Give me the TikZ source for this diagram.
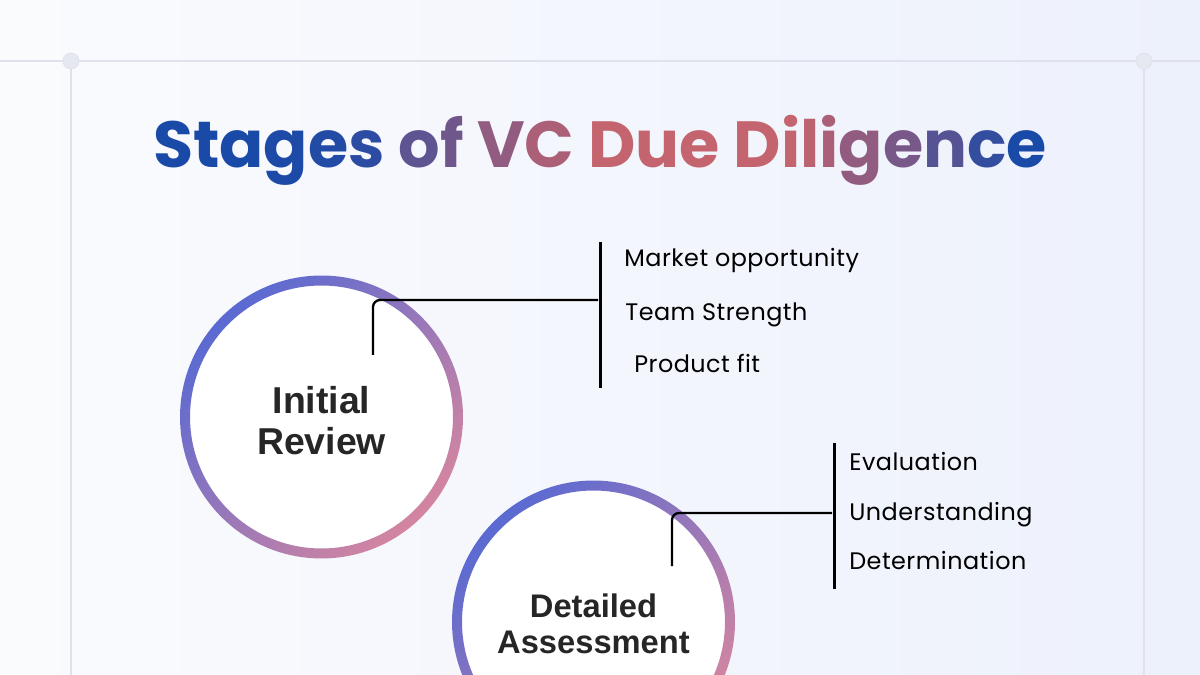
\documentclass[tikz,border=0pt]{standalone}
\usepackage{fontspec}
\setmainfont{Liberation Sans}
\newfontfamily\titlefont{Poppins}
\newfontfamily\itemfont[LetterSpace=2]{Poppins}
\newfontfamily\labfont{Liberation Sans}
\definecolor{bgl}{HTML}{FAFBFD}
\definecolor{bgr}{HTML}{EDF1FC}
\definecolor{gridc}{HTML}{DFE2EC}
\definecolor{dotc}{HTML}{E6E8F0}
\definecolor{tb}{HTML}{1A4AA8}
\definecolor{tr}{HTML}{C4646E}
\definecolor{rb}{HTML}{5A6AD2}
\definecolor{rp}{HTML}{D485A0}
\definecolor{labc}{HTML}{262626}
\newcommand{\tc}[2]{\textcolor{tr!#1!tb}{#2}}
\tikzset{
  gridline/.style={gridc, line width=0.6pt},
  gdot/.style={circle, fill=dotc, draw=gridc, line width=0.4pt, minimum size=0.32cm, inner sep=0},
  core/.style={circle, fill=white, minimum size=5.34cm, inner sep=0},
  ring/.style={left color=rb, right color=rp, shading angle=45, even odd rule},
  conn/.style={black, line width=1.3pt, rounded corners=4pt},
  bar/.style={black, line width=1.3pt},
  lab/.style={align=center, text=labc, font=\labfont\bfseries},
  item/.style={anchor=base west, text=black, font=\itemfont\fontsize{13.6}{16}\selectfont, inner sep=0}
}
\begin{document}
\begin{tikzpicture}[x={(0.02cm,0)}, y={(0,-0.02cm)}]
\useasboundingbox (0,0) rectangle (1200,675);
\shade[left color=bgl, right color=bgr] (0,0) rectangle (1200,675);
% frame lines
\coordinate (hl) at (0,61);
\coordinate (hr) at (1200,61);
\node[gdot] (d1) at (71,61) {};
\node[gdot] (d2) at (1144,61) {};
\coordinate (v1b) at (71,675);
\coordinate (v2b) at (1144,675);
\draw[gridline] (hl) -- (d1) -- (d2) -- (hr);
\draw[gridline] (d1) -- (v1b);
\draw[gridline] (d2) -- (v2b);
% title
\node[anchor=base, inner sep=0] (title) at (600,168) {\resizebox{17.88cm}{!}{\titlefont\bfseries
\tc{0}{S}\tc{0}{t}\tc{0}{a}\tc{2}{g}\tc{5}{e}\tc{10}{s} \tc{40}{o}\tc{50}{f} \tc{70}{V}\tc{85}{C} \tc{100}{D}\tc{100}{u}\tc{100}{e} \tc{100}{D}\tc{100}{i}\tc{95}{l}\tc{85}{i}\tc{70}{g}\tc{55}{e}\tc{35}{n}\tc{15}{c}\tc{0}{e}}};
% circles
\node[core] (c1) at (321.5,417) {};
\shade[ring] (c1.center) circle (2.83cm) (c1.center) circle (2.63cm);
\node[core] (c2) at (593.5,622) {};
\shade[ring] (c2.center) circle (2.83cm) (c2.center) circle (2.63cm);
% connector 1
\coordinate (s1) at (373,355);
\coordinate (m1) at (598,300);
\coordinate (b1t) at (600.5,242);
\coordinate (b1b) at (600.5,388);
\draw[conn] (s1) |- (m1);
\draw[bar] (b1t) -- (b1b);
% connector 2
\coordinate (s2) at (672,566);
\coordinate (m2) at (832,513);
\coordinate (b2t) at (834.5,443);
\coordinate (b2b) at (834.5,589);
\draw[conn] (s2) |- (m2);
\draw[bar] (b2t) -- (b2b);
% labels
\node[lab, font=\labfont\bfseries\fontsize{21.3}{23.3}\selectfont] (l1) at (321.5,421) {Initial\\Review};
\node[lab, font=\labfont\bfseries\fontsize{18.6}{20.4}\selectfont] (l2) at (593.5,624) {Detailed\\Assessment};
% items
\node[item] (i11) at (624,267) {Market opportunity};
\node[item] (i12) at (625,321) {Team Strength};
\node[item] (i13) at (634,373) {Product fit};
\node[item] (i21) at (849,470.5) {Evaluation};
\node[item] (i22) at (849,520.5) {Understanding};
\node[item] (i23) at (849,569.5) {Determination};
\end{tikzpicture}
\end{document}
